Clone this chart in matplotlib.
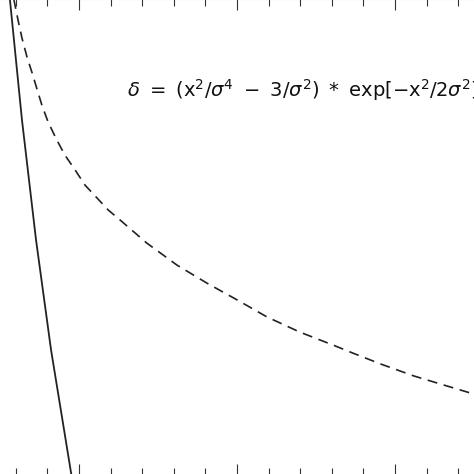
import matplotlib
matplotlib.use('Agg')
import matplotlib.pyplot as plt
from matplotlib.ticker import MultipleLocator

# Solid curve
solid_x = [0.551, 0.563, 0.639, 0.728, 0.823, 0.949, 0.981]
solid_y = [1.040, 0.998, 0.746, 0.494, 0.263, 0.006, -0.053]

# Dashed curve
dash_x = [0.576, 0.595, 0.614, 0.639, 0.671, 0.703, 0.734, 0.766, 0.804, 0.856,
          0.911, 0.975, 1.038, 1.114, 1.184, 1.259, 1.430, 1.620, 1.810, 2.000,
          2.190, 2.399, 2.608, 2.734, 2.911, 3.120, 3.329, 3.500, 3.601]
dash_y = [1.019, 0.987, 0.956, 0.918, 0.878, 0.845, 0.811, 0.776, 0.742, 0.706,
          0.672, 0.641, 0.609, 0.582, 0.557, 0.536, 0.487, 0.441, 0.403, 0.368,
          0.332, 0.300, 0.273, 0.256, 0.233, 0.208, 0.187, 0.170, 0.162]

label = r'$\delta\ =\ (\mathrm{x}^2/\sigma^4\ -\ 3/\sigma^2)\ *\ \mathrm{exp}[-\mathrm{x}^2/2\sigma^2]$'

plt.rcParams['mathtext.fontset'] = 'dejavusans'

fig = plt.figure(figsize=(4.74, 4.74), dpi=100)
# axes runs past the canvas: only the top/bottom ticks show
ax = fig.add_axes([-79 / 474, -1 / 474, 632 / 474, 476 / 474])

ax.plot(solid_x, solid_y, color='#222222', lw=1.3)
ax.plot(dash_x, dash_y, color='#222222', lw=1.2, dashes=(6, 4))

ax.set_xlim(0, 4)
ax.set_ylim(0, 1)
ax.xaxis.set_major_locator(MultipleLocator(1))
ax.xaxis.set_minor_locator(MultipleLocator(0.2))
ax.set_yticks([])
ax.tick_params(which='both', direction='in', top=True, bottom=True,
               labelbottom=False, width=0.8, color='#333333')
ax.tick_params(which='major', length=7.6)
ax.tick_params(which='minor', length=5.2)
for s in ax.spines.values():
    s.set_color('#cccccc')

# the reference crops this label at the right edge
fig.text(127 / 474, 1 - 97 / 474, label, fontsize=14, va='baseline', ha='left',
         color='#111111')

fig.savefig('out.png', dpi=100)
